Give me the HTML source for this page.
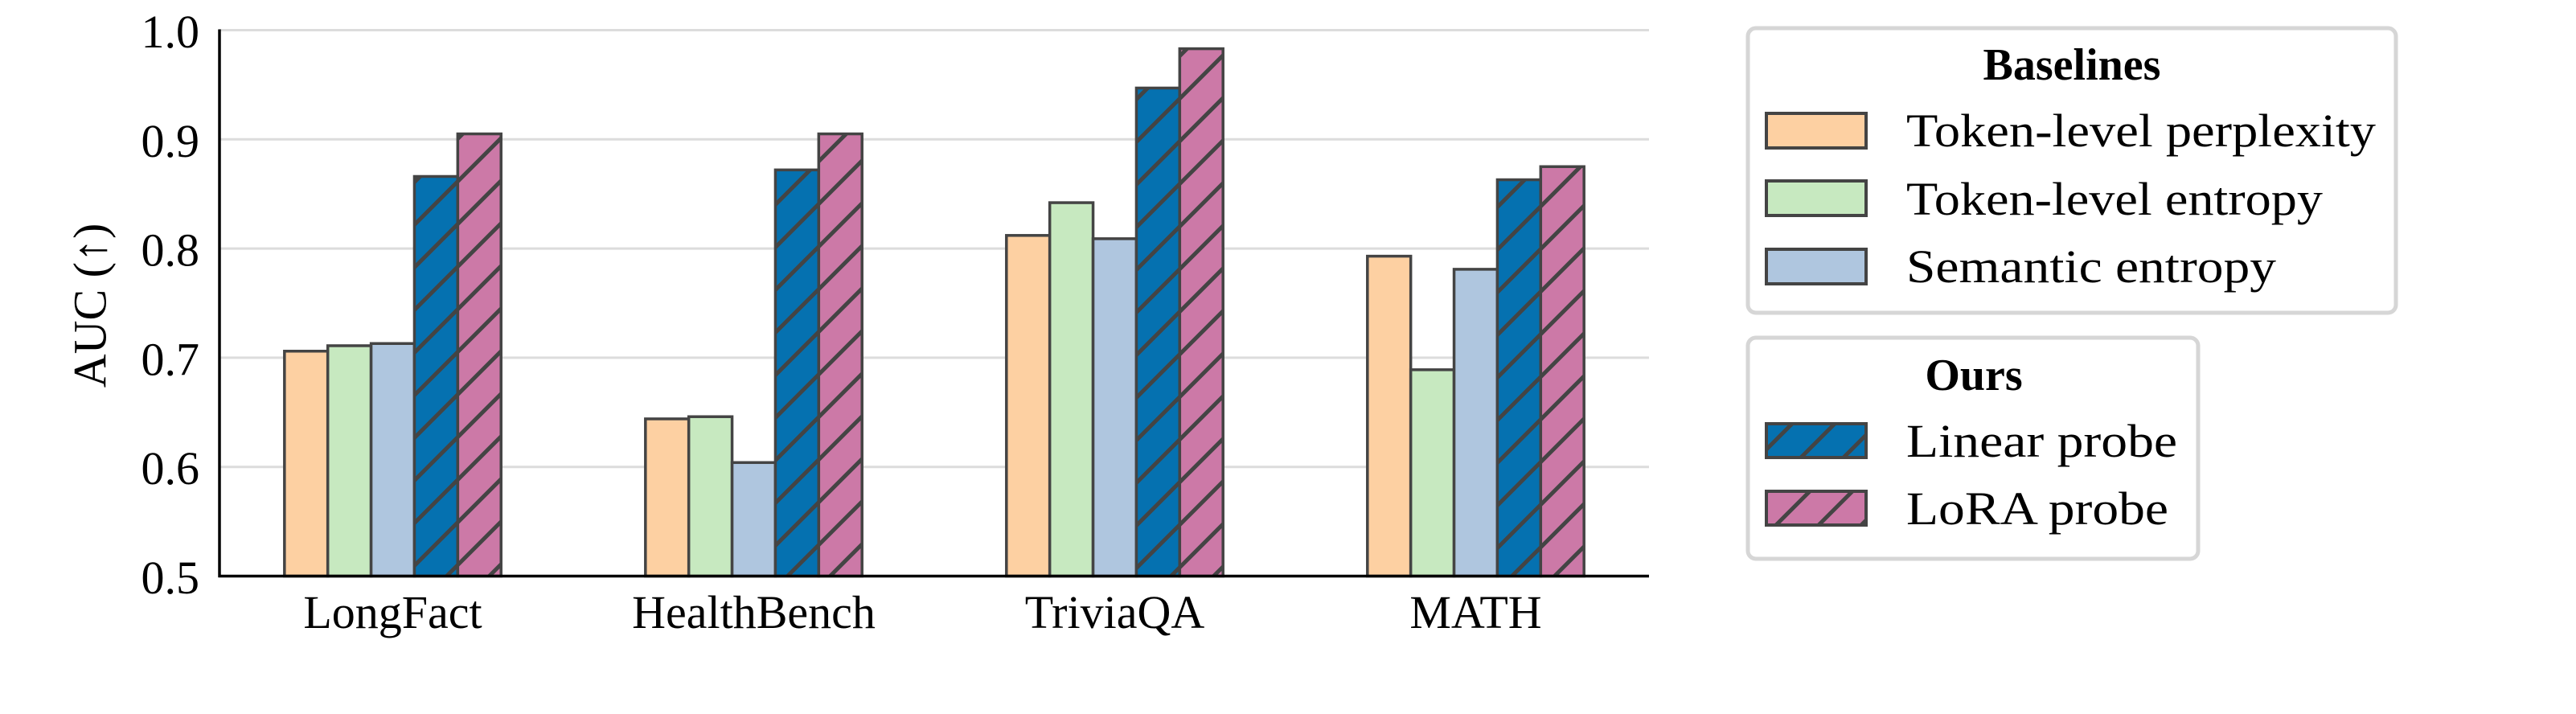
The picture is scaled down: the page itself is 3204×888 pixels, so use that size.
<!DOCTYPE html>
<html><head><meta charset="utf-8"><style>
html,body{margin:0;padding:0;background:#fff;}
svg{display:block;font-family:"Liberation Serif","DejaVu Serif",serif;}
</style></head><body>
<svg id="chart" width="3204" height="888" viewBox="0 0 3204 888" xmlns="http://www.w3.org/2000/svg">
<defs>
<pattern id="hatch" patternUnits="userSpaceOnUse" width="53" height="53">
<path d="M-5,58 L58,-5 M-5,5 L5,-5 M48,58 L58,48" stroke="#444" stroke-width="5"/>
</pattern>
</defs>
<g id="grid"></g>
<g id="bars"></g>
<g id="axes"></g>
<text x="0" y="0" font-size="58" text-anchor="middle" dominant-baseline="central" transform="translate(112,380) rotate(-90)">AUC (↑)</text>

<g>
<rect x="2174" y="35" width="806" height="354" rx="10" fill="#fff" stroke="#d6d6d6" stroke-width="5"/>
<text x="2577" y="99" font-size="56" font-weight="bold" text-anchor="middle">Baselines</text>
<rect x="2197" y="141" width="124" height="43" fill="#fdd0a2" stroke="#444" stroke-width="4"/>
<text x="2371" y="182" font-size="58" textLength="584" lengthAdjust="spacingAndGlyphs">Token-level perplexity</text>
<rect x="2197" y="225" width="124" height="43" fill="#c7e9c0" stroke="#444" stroke-width="4"/>
<text x="2371" y="267" font-size="58" textLength="518" lengthAdjust="spacingAndGlyphs">Token-level entropy</text>
<rect x="2197" y="310" width="124" height="43" fill="#afc6df" stroke="#444" stroke-width="4"/>
<text x="2371" y="351" font-size="58" textLength="460" lengthAdjust="spacingAndGlyphs">Semantic entropy</text>
</g>

<g>
<rect x="2174" y="420" width="560" height="275" rx="10" fill="#fff" stroke="#d6d6d6" stroke-width="5"/>
<text x="2455" y="485" font-size="56" font-weight="bold" text-anchor="middle">Ours</text>
<rect x="2197" y="527" width="124" height="42" fill="#0571b0" stroke="#444" stroke-width="4"/>
<rect x="2197" y="527" width="124" height="42" fill="url(#hatch)"/>
<text x="2371" y="568" font-size="58" textLength="337" lengthAdjust="spacingAndGlyphs">Linear probe</text>
<rect x="2197" y="611" width="124" height="42" fill="#cc79a7" stroke="#444" stroke-width="4"/>
<rect x="2197" y="611" width="124" height="42" fill="url(#hatch)"/>
<text x="2371" y="652" font-size="58" textLength="326" lengthAdjust="spacingAndGlyphs">LoRA probe</text>
</g>
</svg>
<script>
const categories = ["LongFact", "HealthBench", "TriviaQA", "MATH"];
const seriesNames = ["Token-level perplexity", "Token-level entropy", "Semantic entropy", "Linear probe", "LoRA probe"];
const perplexity = [0.706, 0.644, 0.812, 0.793];
const tokenEntropy = [0.711, 0.646, 0.842, 0.689];
const semanticEntropy = [0.713, 0.604, 0.809, 0.781];
const linearProbe = [0.866, 0.872, 0.947, 0.863];
const loraProbe = [0.905, 0.905, 0.983, 0.875];
const yTicks = [0.5, 0.6, 0.7, 0.8, 0.9, 1.0];
const yTickLabels = ["0.5", "0.6", "0.7", "0.8", "0.9", "1.0"];

const NS = "http://www.w3.org/2000/svg";
const X0 = 273, X1 = 2051, Y0 = 716.5, Y1 = 37.5;
const xMin = -0.48, xMax = 3.48, yMin = 0.5, yMax = 1.0;
function xs(v){ return X0 + (v - xMin) / (xMax - xMin) * (X1 - X0); }
function ys(v){ return Y0 - (v - yMin) / (yMax - yMin) * (Y0 - Y1); }
function mk(tag, attrs, parent){ const e = document.createElementNS(NS, tag); for (const k in attrs) e.setAttribute(k, attrs[k]); parent.appendChild(e); return e; }

const grid = document.getElementById('grid');
const bars = document.getElementById('bars');
const axes = document.getElementById('axes');

yTicks.forEach((t, i) => {
  if (t > yMin) {
    const l = mk('line', {x1: X0, x2: X1, y1: ys(t), y2: ys(t), stroke: '#dcdcdc', 'stroke-width': 3}, grid);
    
    
  }
  const tx = mk('text', {x: 248, y: ys(t) + 2, 'font-size': 58, 'text-anchor': 'end', 'dominant-baseline': 'central'}, axes);
  tx.textContent = yTickLabels[i];
  
  
});

const series = [perplexity, tokenEntropy, semanticEntropy, linearProbe, loraProbe];
const fills = ['#fdd0a2', '#c7e9c0', '#afc6df', '#0571b0', '#cc79a7'];
const hatched = [false, false, false, true, true];
const keys = ['perplexity', 'token-entropy', 'semantic-entropy', 'linear-probe', 'lora-probe'];
const bw = 0.12;
categories.forEach((c, ci) => {
  series.forEach((s, si) => {
    const center = ci + (si - 2) * bw;
    const xl = xs(center - bw / 2), xr = xs(center + bw / 2);
    const yt = ys(s[ci]);
    const r = mk('rect', {x: xl, y: yt, width: xr - xl, height: Y0 - yt, fill: fills[si]}, bars);
    
    
    if (hatched[si]) {
      const h = mk('rect', {x: xl, y: yt, width: xr - xl, height: Y0 - yt, fill: 'url(#hatch)'}, bars);
      
      
    }
    const o = mk('rect', {x: xl, y: yt, width: xr - xl, height: Y0 - yt, fill: 'none', stroke: '#444', 'stroke-width': 3.5}, bars);
    
    
  });
  const lt = mk('text', {x: xs(ci), y: 781, 'font-size': 58, 'text-anchor': 'middle'}, axes);
  lt.textContent = c;
  
  
});

const ya = mk('line', {x1: X0, x2: X0, y1: Y1 - 1, y2: Y0 + 1.5, stroke: '#000', 'stroke-width': 3.5}, axes);


const xa = mk('line', {x1: X0 - 1.5, x2: X1, y1: Y0, y2: Y0, stroke: '#000', 'stroke-width': 3.5}, axes);


</script>
</body></html>
